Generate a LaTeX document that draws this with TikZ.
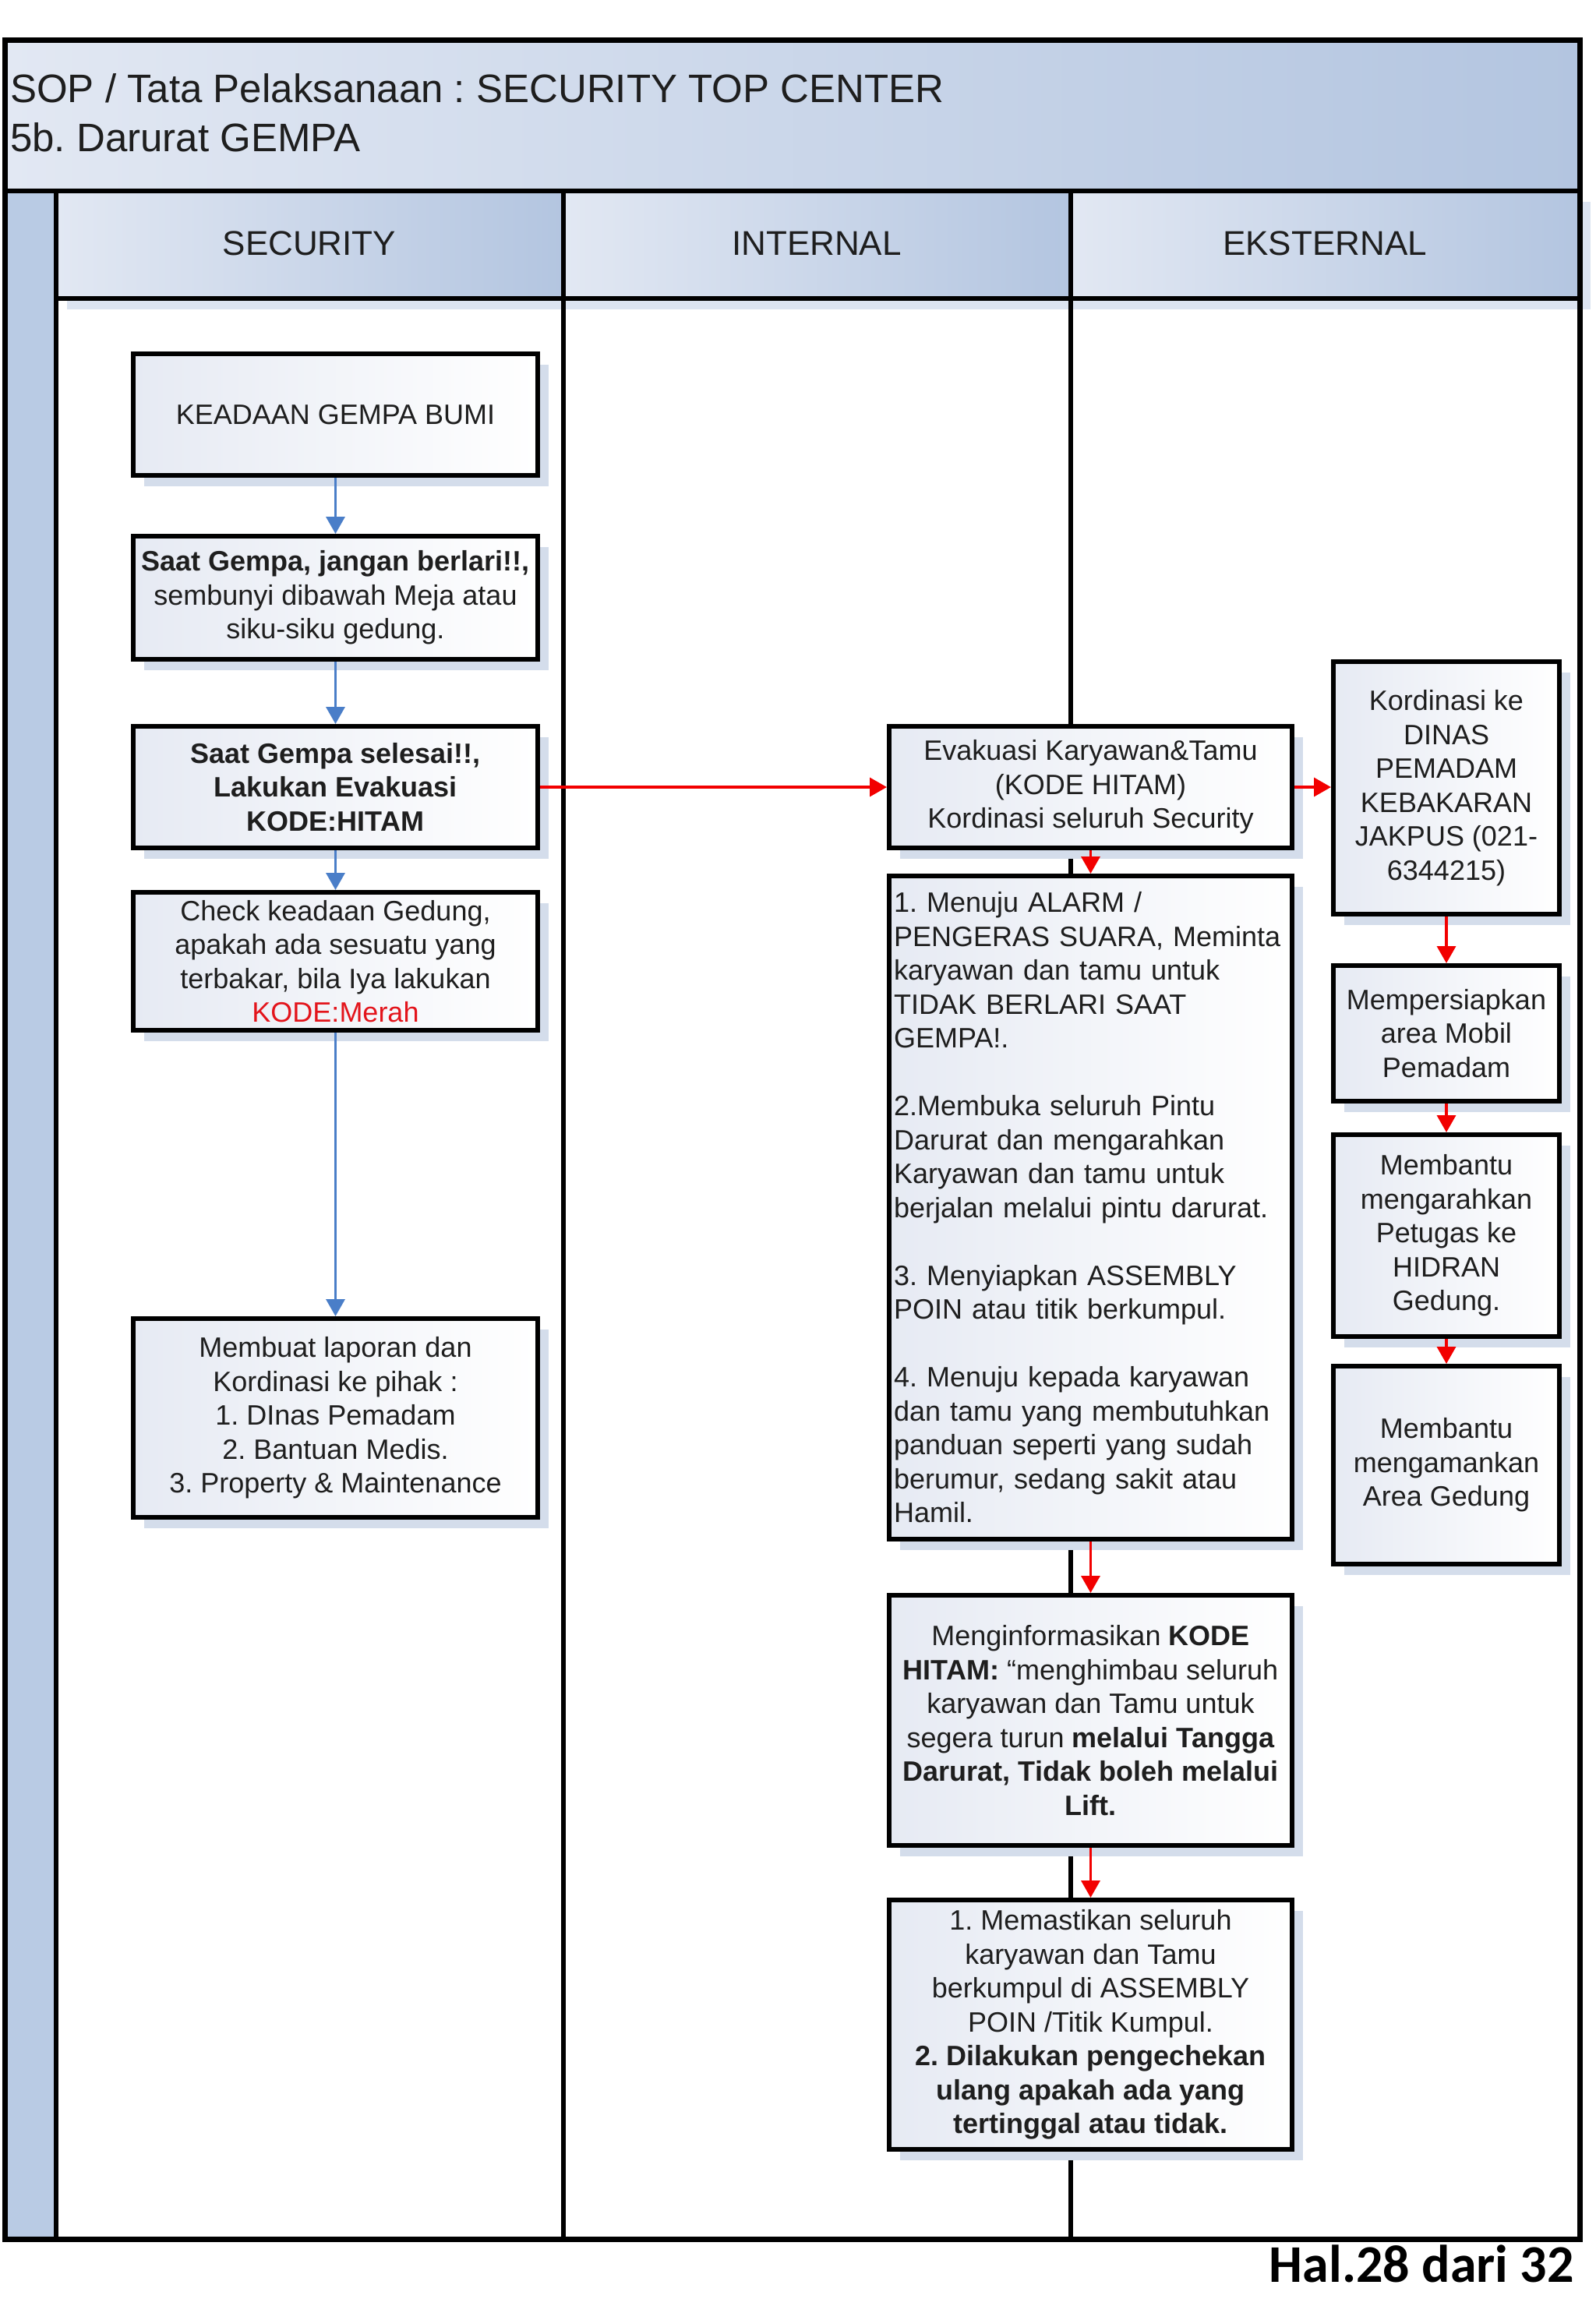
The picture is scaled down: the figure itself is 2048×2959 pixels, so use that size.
\documentclass[tikz,border=0pt]{standalone}
\usepackage{fontspec}
\setmainfont{Liberation Sans}
\newfontfamily\calibrifont{Carlito}
\usetikzlibrary{arrows.meta,shadows}
\frenchspacing
\definecolor{boxl}{HTML}{E6EAF3}
\definecolor{shadowc}{HTML}{D4DDEB}
\definecolor{hdrl}{HTML}{E2E8F3}
\definecolor{hdrr}{HTML}{B3C5E0}
\definecolor{strip}{HTML}{B9CBE4}
\definecolor{hdrshadow}{HTML}{DCE4F1}
\definecolor{arrblue}{HTML}{4A7EC8}
\definecolor{arrred}{HTML}{F20000}
\definecolor{txt}{HTML}{1E1E1E}
\definecolor{kodered}{HTML}{E3141B}
\begin{document}
\begin{tikzpicture}[x=1pt,y=-1pt,
  box/.style={draw=black, line width=6pt, left color=boxl, right color=white,
    align=center, inner sep=4pt, text=txt,
    font=\fontsize{36}{43.5}\selectfont,
    drop shadow={shadow xshift=14pt, shadow yshift=-14pt, fill=shadowc, opacity=1}},
  barrow/.style={draw=arrblue, line width=3.5pt, -{Triangle[width=24pt,length=22pt]}},
  rarrow/.style={draw=arrred, line width=3.5pt, -{Triangle[width=24pt,length=22pt]}},
  frameline/.style={draw=black, line width=7pt},
  laneline/.style={draw=black, line width=6pt},
  hdrtext/.style={font=\fontsize{44}{50}\selectfont, text=txt, anchor=base, inner sep=0pt},
  titletext/.style={font=\fontsize{51}{63}\selectfont, text=txt, anchor=base west, inner sep=0pt}
]
\useasboundingbox (0,0) rectangle (2048,2959);
\fill[white] (0,0) rectangle (2048,2959);

% header cell shadows
\fill[hdrshadow] (86,259) rectangle (737,397);
\fill[hdrshadow] (737,259) rectangle (1388,397);
\fill[hdrshadow] (1388,259) rectangle (2041,397);

% title band and header cells
\shade[left color=hdrl, right color=hdrr] (6,51) rectangle (2027,245);
\shade[left color=hdrl, right color=hdrr] (72,245) rectangle (723,383);
\shade[left color=hdrl, right color=hdrr] (723,245) rectangle (1374,383);
\shade[left color=hdrl, right color=hdrr] (1374,245) rectangle (2027,383);
\fill[strip] (6,245) rectangle (72,2873);

% lines
\draw[laneline] (6,245) -- (2027,245);
\draw[laneline] (72,383) -- (2027,383);
\draw[laneline] (72,245) -- (72,2873);
\draw[laneline] (723,245) -- (723,2873);
\draw[laneline] (1374,245) -- (1374,2873);
\draw[frameline] (6,51) rectangle (2027,2873);

% titles
\node[titletext] (title1) at (13,131) {SOP / Tata Pelaksanaan : SECURITY TOP CENTER};
\node[titletext] (title2) at (13,194) {5b. Darurat GEMPA};

% lane headers
\node[hdrtext] (hsec) at (397,327) {SECURITY};
\node[hdrtext] (hint) at (1048,327) {INTERNAL};
\node[hdrtext] (hext) at (1700,327) {EKSTERNAL};

% SECURITY lane boxes
\node[box, minimum width=519pt, minimum height=156pt] (b1) at (430.5,532) {KEADAAN GEMPA BUMI};
\node[box, minimum width=519pt, minimum height=158pt] (b2) at (430.5,767)
  {\textbf{Saat Gempa, jangan berlari!!,}\\ sembunyi dibawah Meja atau\\ siku-siku gedung.};
\node[box, minimum width=519pt, minimum height=156pt] (b3) at (430.5,1010)
  {\textbf{Saat Gempa selesai!!,}\\ \textbf{Lakukan Evakuasi}\\ \textbf{KODE:HITAM}};
\node[box, minimum width=519pt, minimum height=177pt] (b4) at (430.5,1233.5)
  {Check keadaan Gedung,\\ apakah ada sesuatu yang\\ terbakar, bila Iya lakukan\\ \textcolor{kodered}{KODE:Merah}};
\node[box, minimum width=519pt, minimum height=255pt] (b5) at (430.5,1819.5)
  {Membuat laporan dan\\ Kordinasi ke pihak :\\ 1. DInas Pemadam\\ 2. Bantuan Medis.\\ 3. Property \& Maintenance};

% INTERNAL / EKSTERNAL middle boxes
\node[box, minimum width=517pt, minimum height=156pt] (b6) at (1399.5,1010)
  {Evakuasi Karyawan\&Tamu\\ (KODE HITAM)\\ Kordinasi seluruh Security};
\node[box, minimum width=517pt, minimum height=851pt, text width=505pt, align=left, inner xsep=6pt] (b7) at (1399.5,1549.5)
  {1. Menuju ALARM /\\ PENGERAS SUARA, Meminta\\ karyawan dan tamu untuk\\ TIDAK BERLARI SAAT\\ GEMPA!.\\[43.5pt]
   2.Membuka seluruh Pintu\\ Darurat dan mengarahkan\\ Karyawan dan tamu untuk\\ berjalan melalui pintu darurat.\\[43.5pt]
   3. Menyiapkan ASSEMBLY\\ POIN atau titik berkumpul.\\[43.5pt]
   4. Menuju kepada karyawan\\ dan tamu yang membutuhkan\\ panduan seperti yang sudah\\ berumur, sedang sakit atau\\ Hamil.};
\node[box, minimum width=517pt, minimum height=321pt] (b8) at (1399.5,2207.5)
  {Menginformasikan \textbf{KODE}\\ \textbf{HITAM:} “menghimbau seluruh\\ karyawan dan Tamu untuk\\ segera turun \textbf{melalui Tangga}\\ \textbf{Darurat, Tidak boleh melalui}\\ \textbf{Lift.}};
\node[box, minimum width=517pt, minimum height=320pt] (b9) at (1399.5,2598)
  {1. Memastikan seluruh\\ karyawan dan Tamu\\ berkumpul di ASSEMBLY\\ POIN /Titik Kumpul.\\ \textbf{2. Dilakukan pengechekan}\\ \textbf{ulang apakah ada yang}\\ \textbf{tertinggal atau tidak.}};

% EKSTERNAL boxes
\node[box, minimum width=290pt, minimum height=324pt] (b10) at (1856,1011)
  {Kordinasi ke\\ DINAS\\ PEMADAM\\ KEBAKARAN\\ JAKPUS (021-\\ 6344215)};
\node[box, minimum width=290pt, minimum height=174pt] (b11) at (1856,1326)
  {Mempersiapkan\\ area Mobil\\ Pemadam};
\node[box, minimum width=290pt, minimum height=259pt] (b12) at (1856,1585.5)
  {Membantu\\ mengarahkan\\ Petugas ke\\ HIDRAN\\ Gedung.};
\node[box, minimum width=290pt, minimum height=254pt] (b13) at (1856,1880)
  {Membantu\\ mengamankan\\ Area Gedung};

% connectors
\draw[barrow] (b1) -- (b2);
\draw[barrow] (b2) -- (b3);
\draw[barrow] (b3) -- (b4);
\draw[barrow] (b4) -- (b5);
\draw[rarrow] (b3.east) -- (b6.west);
\draw[rarrow] (b6.east) -- (b6.east -| b10.west);
\draw[rarrow] (b6) -- (b7);
\draw[rarrow] (b7) -- (b8);
\draw[rarrow] (b8) -- (b9);
\draw[rarrow] (b10) -- (b11);
\draw[rarrow] (b11) -- (b12);
\draw[rarrow] (b12) -- (b13);

% footer
\node[font=\calibrifont\bfseries\fontsize{68}{80}\selectfont, anchor=base east, inner sep=0pt] (footer) at (2020,2928) {Hal.28 dari 32};
\end{tikzpicture}
\end{document}
